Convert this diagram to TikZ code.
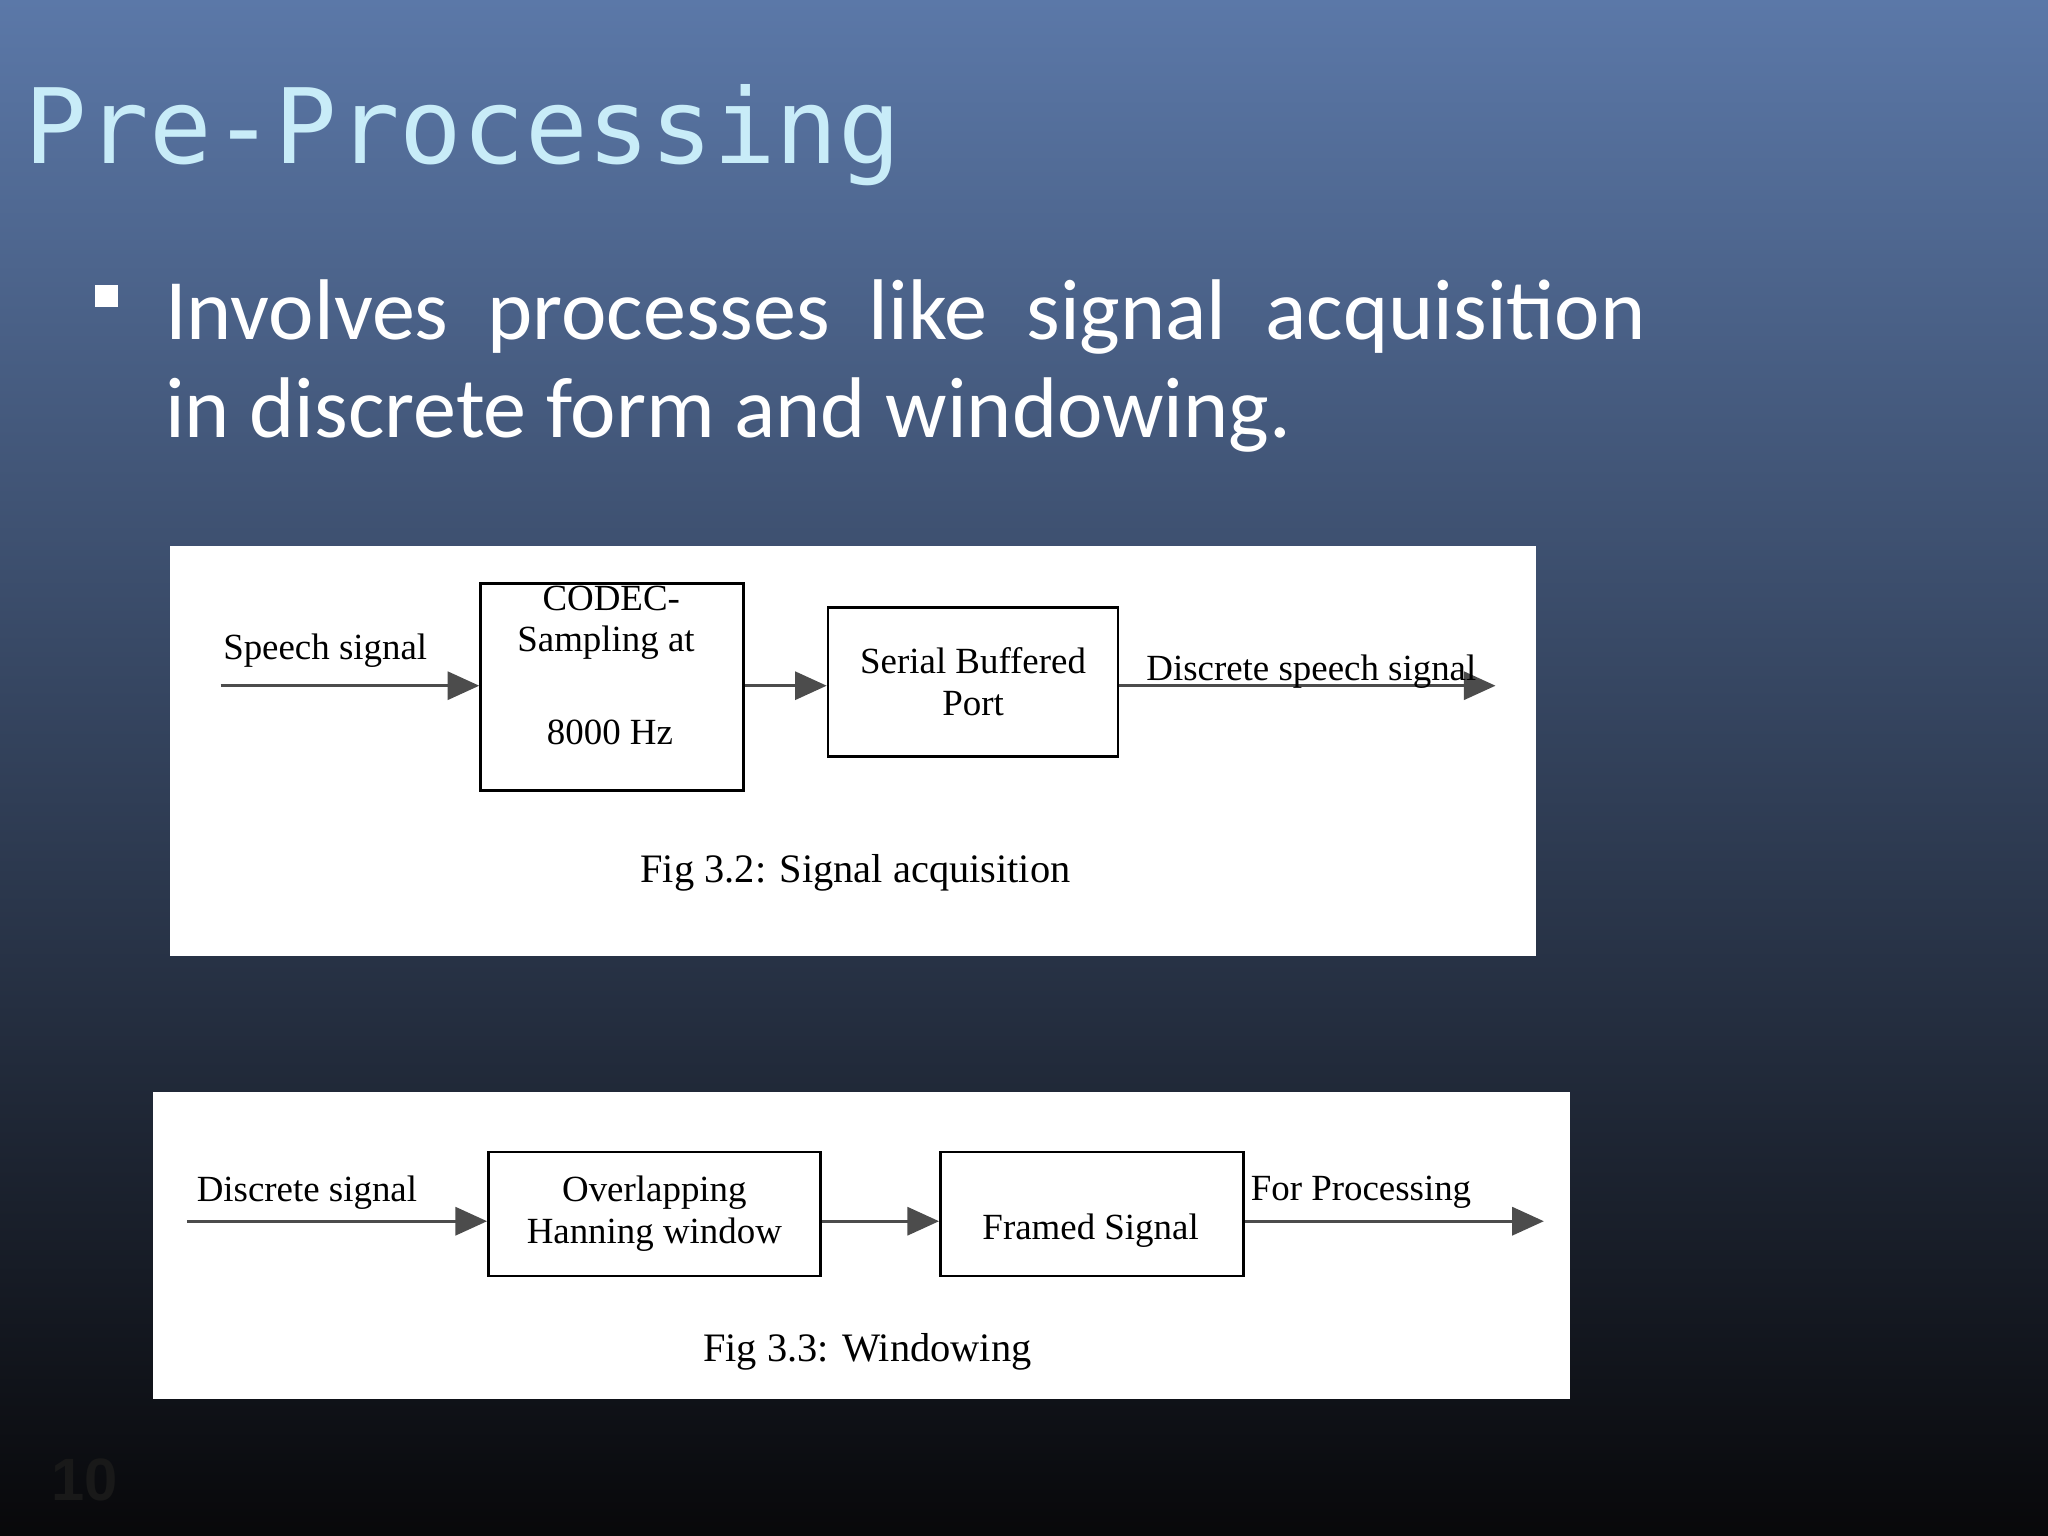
\documentclass[tikz,border=0pt]{standalone}
\usepackage{fontspec}
\setmainfont{Liberation Serif}
\newfontfamily\titlefont{DejaVu Sans Mono}
\newfontfamily\bodyfont{Carlito}
\newfontfamily\numfont{Liberation Sans}
\usetikzlibrary{arrows.meta}
\definecolor{bgtop}{HTML}{5B78A8}
\definecolor{bgmid}{HTML}{2A3550}
\definecolor{bgbot}{HTML}{08080A}
\definecolor{titlecol}{HTML}{C8ECF8}

\begin{document}
\begin{tikzpicture}[x=0.01306cm,y=-0.01306cm,
    blk/.style={draw=black,thick,fill=white,inner sep=0pt},
    lbl/.style={font=\fontsize{10.5}{12}\selectfont,text=black,align=center},
    figcap/.style={font=\fontsize{11.5}{13}\selectfont,text=black},
    sig/.style={draw=black!70,thick,-{Triangle[length=9pt,width=8pt]}}]

    % Background
    \shade[top color=bgtop,middle color=bgmid,bottom color=bgbot] (0,0) rectangle (1568,1176);
    \useasboundingbox (0,0) rectangle (1568,1176);

    % Title and bullet
    \node [anchor=base west,inner sep=0pt,text=titlecol,font=\titlefont\fontsize{29.6}{33}\selectfont] (title) at (18,125) {Pre-Processing};
    \fill [white] (73,218) rectangle (90,235);
    \node [anchor=base west,inner sep=0pt,text=white,font=\bodyfont\fontsize{24.5}{28}\selectfont] (line1) at (126,260) {Involves\ \ processes\ \ like\ \ signal\ \ acquisition};
    \node [anchor=base west,inner sep=0pt,text=white,font=\bodyfont\fontsize{24.5}{28}\selectfont] (line2) at (126,335) {in discrete form and windowing.};

    % Fig 3.2
    \fill [white] (130,418) rectangle (1176,732);
    \node [blk,minimum width=74.7pt,minimum height=58.7pt] (codec) at (468.5,526) {};
    \node [lbl] at (468,458) {CODEC-};
    \node [lbl] at (464,492) {Sampling at};
    \node [lbl] at (467,561) {8000 Hz};
    \node [blk,minimum width=82.5pt,minimum height=42.4pt,lbl] (port) at (745,522) {Serial Buffered\\Port};
    \coordinate (sin) at (169,525);
    \coordinate (sout) at (1145,525);
    \draw [sig] (sin) -- (sin -| codec.west);
    \draw [sig] (codec.east |- sin) -- (port.west |- sin);
    \draw [sig] (port.east |- sin) -- (sout);
    \node [lbl] at (249,498) {Speech signal};
    \node [lbl] at (1004,514) {Discrete speech signal};
    \node [figcap] at (655,668) {Fig 3.2: Signal acquisition};

    % Fig 3.3
    \fill [white] (117,836) rectangle (1202,1071);
    \node [blk,minimum width=94.4pt,minimum height=35.3pt,lbl] (win) at (501,929.5) {Overlapping\\Hanning window};
    \node [blk,minimum width=86.2pt,minimum height=35.3pt] (frame) at (836,929.5) {};
    \node [lbl] at (835,942) {Framed Signal};
    \coordinate (din) at (143,935);
    \coordinate (dout) at (1182,935);
    \draw [sig] (din) -- (din -| win.west);
    \draw [sig] (win.east |- din) -- (frame.west |- din);
    \draw [sig] (frame.east |- din) -- (dout);
    \node [lbl] at (235,913) {Discrete signal};
    \node [lbl] at (1042,913) {For Processing};
    \node [figcap] at (664,1035) {Fig 3.3: Windowing};

    % Page number
    \node [text=black!90!white,font=\numfont\bfseries\fontsize{17}{20}\selectfont] (pnum) at (65,1133) {10};
\end{tikzpicture}
\end{document}
